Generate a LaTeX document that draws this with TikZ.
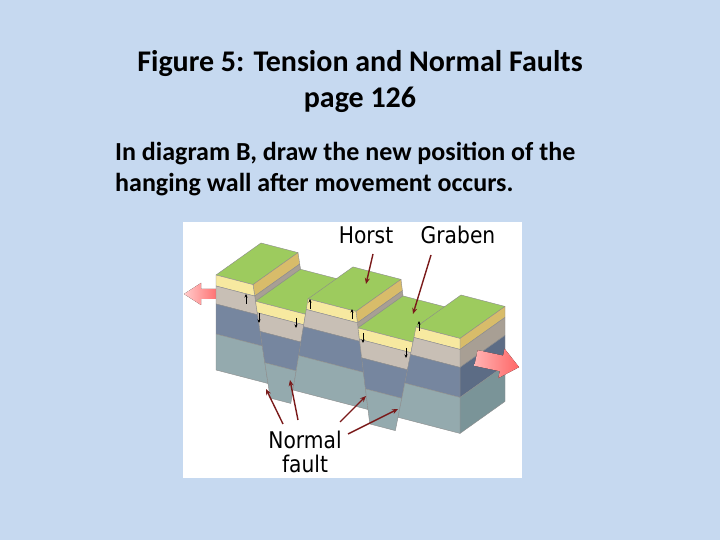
\documentclass[tikz,border=0pt]{standalone}
\usepackage{fontspec}
\setmainfont{Carlito}
\newfontfamily\lab{DejaVu Sans}
\usetikzlibrary{calc,arrows.meta}
\definecolor{bg}{HTML}{C6D9F0}
\definecolor{topc}{HTML}{9DCB5E}
\definecolor{yelf}{HTML}{F7E9A0}
\definecolor{tanf}{HTML}{C8BFB5}
\definecolor{bluf}{HTML}{76869F}
\definecolor{teaf}{HTML}{94AAAE}
\definecolor{yels}{HTML}{D8BC6A}
\definecolor{tans}{HTML}{A89F94}
\definecolor{blus}{HTML}{5C6C85}
\definecolor{teas}{HTML}{7A9498}
\definecolor{dred}{HTML}{7A1A1A}
\tikzset{blk/.style={draw=black!45,line width=0.4pt,line join=round},
 redarr/.style={dred,line width=1.4pt,-{Stealth[length=6pt,width=5pt]}},
 smarr/.style={black,line width=0.9pt,-{Stealth[length=3.5pt,width=3pt]}},
 lbl/.style={font=\lab\fontsize{23}{25}\selectfont,inner sep=0pt,xscale=0.88}}
\newcommand\fb[5]{\filldraw[fill=#5,blk] ($(#1b)!#3/95!(#1t)$) -- ($(#2b)!#3/95!(#2t)$) -- ($(#2b)!#4/95!(#2t)$) -- ($(#1b)!#4/95!(#1t)$) -- cycle;}
\newcommand\tp[3]{\filldraw[fill=topc,blk] ($(#1b)!#3/95!(#1t)$) -- ($(#2b)!#3/95!(#2t)$) -- ++(45,32) -- ($($(#1b)!#3/95!(#1t)$)+(45,32)$) -- cycle;}
\newcommand\sd[4]{\filldraw[fill=#4,blk] ($(#1b)!#2/95!(#1t)$) -- ($(#1b)!#3/95!(#1t)$) -- ++(45,32) -- ($($(#1b)!#2/95!(#1t)$)+(45,32)$) -- cycle;}
\begin{document}
\begin{tikzpicture}[x=1pt,y=1pt]
\fill[bg] (0,0) rectangle (720,540);
\useasboundingbox (0,0) rectangle (720,540);
\fill[white] (183,62) rectangle (522,318);
\node[font=\bfseries\fontsize{30}{34}\selectfont] (t1) at (360,476) {Figure 5: Tension and Normal Faults};
\node[font=\bfseries\fontsize{30}{34}\selectfont] (t2) at (360,440) {page 126};
\node[font=\bfseries\fontsize{26}{28}\selectfont,anchor=west,inner sep=0pt] (b1) at (115,386) {In diagram B, draw the new position of the};
\node[font=\bfseries\fontsize{26}{28}\selectfont,anchor=west,inner sep=0pt] (b2) at (115,355) {hanging wall after movement occurs.};
\begin{scope}[cm={1,-0.26,0,1,(0pt,226.16pt)}]
\coordinate (E0b) at (216,0); \coordinate (E0t) at (216,95);
\coordinate (F1b) at (268,0); \coordinate (F1t) at (253,95);
\coordinate (F2b) at (293,0); \coordinate (F2t) at (308,95);
\coordinate (F3b) at (368,0); \coordinate (F3t) at (356,95);
\coordinate (F4b) at (398,0); \coordinate (F4t) at (416,95);
\coordinate (E5b) at (460,0); \coordinate (E5t) at (460,95);
\end{scope}
\fill[left color=red!20!white,right color=red!55!white] (216,251) -- (201,251) -- (201,257) -- (184,246) -- (201,235) -- (201,241) -- (216,241) -- cycle;
\tp{E0}{F1}{95}
\sd{F1}{84}{95}{yels}\sd{F1}{79}{84}{tans}
\tp{F1}{F2}{79}
\tp{F2}{F3}{95}
\sd{F3}{84}{95}{yels}\sd{F3}{79}{84}{tans}
\tp{F3}{F4}{79}
\tp{F4}{E5}{95}
\sd{E5}{84}{95}{yels}\sd{E5}{66}{84}{tans}\sd{E5}{36}{66}{blus}\sd{E5}{0}{36}{teas}
\fb{E0}{F1}{84}{95}{yelf}\fb{E0}{F1}{66}{84}{tanf}\fb{E0}{F1}{36}{66}{bluf}\fb{E0}{F1}{0}{36}{teaf}
\fb{F1}{F2}{68}{79}{yelf}\fb{F1}{F2}{50}{68}{tanf}\fb{F1}{F2}{20}{50}{bluf}\fb{F1}{F2}{-14}{20}{teaf}
\fb{F2}{F3}{84}{95}{yelf}\fb{F2}{F3}{66}{84}{tanf}\fb{F2}{F3}{36}{66}{bluf}\fb{F2}{F3}{0}{36}{teaf}
\fb{F3}{F4}{68}{79}{yelf}\fb{F3}{F4}{50}{68}{tanf}\fb{F3}{F4}{20}{50}{bluf}\fb{F3}{F4}{-14}{20}{teaf}
\fb{F4}{E5}{84}{95}{yelf}\fb{F4}{E5}{66}{84}{tanf}\fb{F4}{E5}{36}{66}{bluf}\fb{F4}{E5}{0}{36}{teaf}
\fill[left color=red!30!white,right color=red!60!white,rotate around={-12:(476,182)}] (476,190) -- (502,190) -- (502,197) -- (520,182) -- (502,167) -- (502,174) -- (476,174) -- cycle;
\draw[smarr] (246,236) -- (246,246);
\draw[smarr] (259,227) -- (259,217);
\draw[smarr] (296,222) -- (296,212);
\draw[smarr] (310,231) -- (310,241);
\draw[smarr] (352,221) -- (352,231);
\draw[smarr] (363,207) -- (363,197);
\draw[smarr] (406,192) -- (406,182);
\draw[smarr] (419,209) -- (419,219);
\node[lbl] (horst) at (366,305) {Horst};
\node[lbl] (graben) at (458,305) {Graben};
\node[lbl] (normal) at (305,100) {Normal};
\node[lbl] (fault) at (305,76) {fault};
\coordinate (h1) at (366,256); \coordinate (g1) at (413,226);
\coordinate (n1) at (266,151); \coordinate (n2) at (290,160);
\coordinate (n3) at (366,144); \coordinate (n4) at (398,131);
\draw[redarr] (373,286) -- (h1);
\draw[redarr] (431,285) -- (g1);
\draw[redarr] (283,116) -- (n1);
\draw[redarr] (298,120) -- (n2);
\draw[redarr] (340,118) -- (n3);
\draw[redarr] (348,106) -- (n4);
\end{tikzpicture}
\end{document}
